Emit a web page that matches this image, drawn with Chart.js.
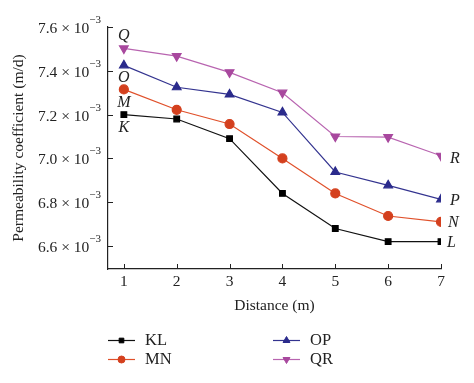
<!DOCTYPE html>
<html><head><meta charset="utf-8">
<script src="https://cdn.jsdelivr.net/npm/chart.js@4"></script>
<style>html,body{margin:0;padding:0;background:#fff}#wrap{width:474px;height:383px}</style>
</head><body><div id="wrap"><canvas id="c" width="474" height="383"></canvas></div>
<script>
const distances = [1, 2, 3, 4, 5, 6, 7];
const xTicks = [1, 2, 3, 4, 5, 6, 7];
const yTicks = [6.6, 6.8, 7.0, 7.2, 7.4, 7.6];
const yTickLabels = ['6.6', '6.8', '7.0', '7.2', '7.4', '7.6'];
const seriesNames = ['KL', 'MN', 'OP', 'QR'];
const KL = [7.20, 7.18, 7.09, 6.84, 6.68, 6.62, 6.62];
const MN = [7.315, 7.222, 7.157, 7.0, 6.84, 6.737, 6.71];
const OP = [7.425, 7.325, 7.292, 7.21, 6.938, 6.877, 6.813];
const QR = [7.502, 7.467, 7.393, 7.30, 7.10, 7.097, 7.012];
const startLabels = ['K', 'M', 'O', 'Q'];
const endLabels = ['L', 'N', 'P', 'R'];

const colors = ['#111111', '#e0502a', '#33338f', '#b864b0'];
const markerColors = ['#000000', '#d4401e', '#2b2b8c', '#a8489e'];
const styles = ['rect', 'circle', 'triangle', 'triangle'];
const rotations = [0, 0, 0, 180];
const radii = [4, 4.5, 5, 5];
const legRadii = [3.3, 3.5, 4, 4];
const FONT = '"Liberation Serif", "DejaVu Serif", serif';

const allData = [KL, MN, OP, QR];
const datasets = allData.map((arr, i) => ({
  label: seriesNames[i],
  data: arr.map((v, j) => ({x: distances[j], y: v})),
  borderColor: colors[i],
  backgroundColor: markerColors[i],
  pointBorderColor: markerColors[i],
  borderWidth: 1.2,
  pointStyle: styles[i],
  pointRotation: rotations[i],
  pointRadius: radii[i],
  pointHoverRadius: radii[i],
  tension: 0
}));

const decor = {
  id: 'decor',
  afterDraw(chart) {
    const ctx = chart.ctx;
    const xs = chart.scales.x, ys = chart.scales.y;
    ctx.save();
    ctx.strokeStyle = '#222';
    ctx.lineWidth = 1;
    xTicks.forEach(v => {
      const px = Math.round(xs.getPixelForValue(v)) + 0.5;
      ctx.beginPath(); ctx.moveTo(px, ys.bottom); ctx.lineTo(px, ys.bottom - 5); ctx.stroke();
    });
    yTicks.forEach((v, i) => {
      const py = Math.round(ys.getPixelForValue(v)) + 0.5;
      ctx.strokeStyle = '#222';
      ctx.beginPath(); ctx.moveTo(xs.left, py); ctx.lineTo(xs.left + 5, py); ctx.stroke();
      ctx.fillStyle = '#222';
      ctx.textBaseline = 'middle';
      const sup = '\u22123';
      ctx.font = '11px ' + FONT;
      const supW = ctx.measureText(sup).width;
      const rightX = xs.left - 7;
      ctx.textAlign = 'right';
      ctx.fillText(sup, rightX, py - 7);
      ctx.font = '15.5px ' + FONT;
      ctx.fillText(yTickLabels[i] + ' \u00d7 10', rightX - supW, py + 1);
    });
    ctx.font = 'italic 16px ' + FONT;
    ctx.fillStyle = '#222';
    ctx.textBaseline = 'middle';
    const startOffsets = [13, 13, 12, -13];
    allData.forEach((arr, i) => {
      const px = xs.getPixelForValue(distances[0]);
      const py = ys.getPixelForValue(arr[0]);
      ctx.textAlign = 'center';
      ctx.fillText(startLabels[i], px, py + startOffsets[i]);
      const ex = xs.getPixelForValue(distances[distances.length - 1]);
      const ey = ys.getPixelForValue(arr[arr.length - 1]);
      const dx = [6, 7, 9, 9][i];
      const dy = [1, 1, 1, 3][i];
      ctx.textAlign = 'left';
      ctx.fillText(endLabels[i], ex + dx, ey + dy);
    });
    const legPos = [[108, 340], [108, 359], [273, 340], [273, 359]];
    seriesNames.forEach((name, i) => {
      const [lx, ly] = legPos[i];
      ctx.strokeStyle = colors[i];
      ctx.lineWidth = 1.2;
      ctx.beginPath(); ctx.moveTo(lx, ly + 0.5); ctx.lineTo(lx + 27, ly + 0.5); ctx.stroke();
      ctx.fillStyle = markerColors[i];
      ctx.strokeStyle = markerColors[i];
      ctx.lineWidth = 1;
      Chart.helpers.drawPoint(ctx, {pointStyle: styles[i], rotation: rotations[i], radius: legRadii[i], borderWidth: 1}, lx + 13.5, ly + 0.5);
      ctx.fillStyle = '#222';
      ctx.font = '16.5px ' + FONT;
      ctx.textAlign = 'left';
      ctx.textBaseline = 'middle';
      ctx.fillText(name, lx + 37, ly + 1);
    });
    ctx.restore();
  }
};

new Chart(document.getElementById('c'), {
  type: 'line',
  data: {datasets},
  plugins: [decor],
  options: {
    responsive: false,
    animation: false,
    events: [],
    layout: {padding: {left: 0, right: 33, top: 27, bottom: 64}},
    plugins: {legend: {display: false}, tooltip: {enabled: false}},
    scales: {
      x: {
        type: 'linear', min: 0.7, max: 7,
        afterBuildTicks: s => { s.ticks = xTicks.map(v => ({value: v})); },
        afterFit: s => { s.height = 50; },
        grid: {display: false, drawTicks: false},
        border: {display: true, color: '#222', width: 1.2},
        ticks: {color: '#222', font: {family: FONT, size: 15.5}, padding: 4},
        title: {display: true, text: 'Distance (m)', color: '#222', font: {family: FONT, size: 15.5}, padding: {top: 2}}
      },
      y: {
        type: 'linear', min: 6.495, max: 7.6,
        afterBuildTicks: s => { s.ticks = yTicks.map(v => ({value: v})); },
        afterFit: s => { s.width = 108; },
        grid: {display: false, drawTicks: false},
        border: {display: true, color: '#222', width: 1.2},
        ticks: {display: false},
        title: {display: true, text: 'Permeability coefficient (m/d)', color: '#222', font: {family: FONT, size: 15.5}, padding: {top: 10, bottom: 0}}
      }
    }
  }
});
</script></body></html>
